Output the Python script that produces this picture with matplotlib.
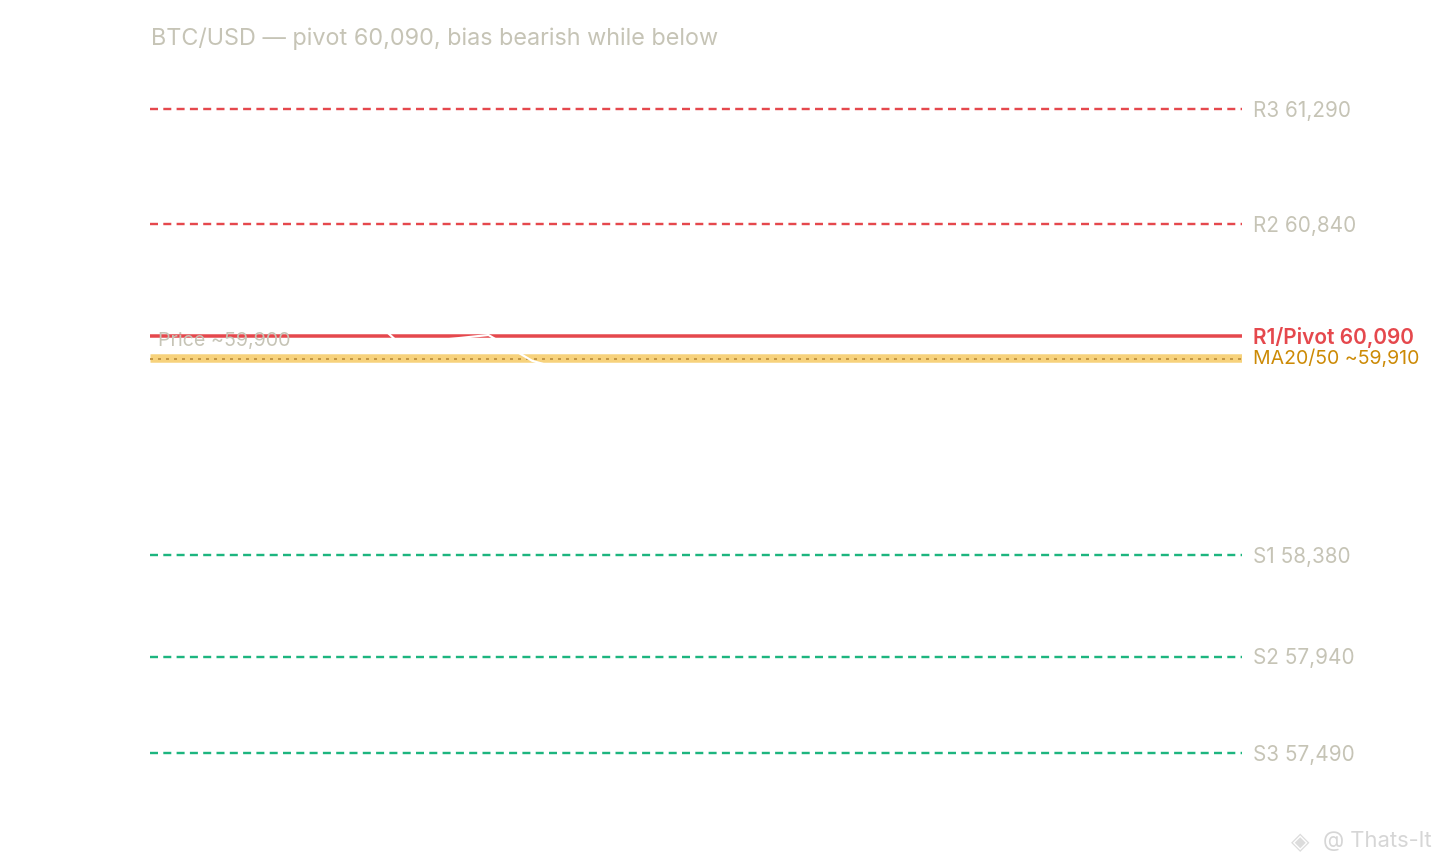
import matplotlib
matplotlib.use("Agg")
import matplotlib.pyplot as plt

plt.rcParams['font.family'] = ['Inter', 'DejaVu Sans']
plt.rcParams['lines.scale_dashes'] = False

# ---- data ----
level_names = ["R3", "R2", "R1/Pivot", "MA20/50", "S1", "S2", "S3"]
level_labels = ["R3 61,290", "R2 60,840", "R1/Pivot 60,090", "MA20/50 ~59,910",
                "S1 58,380", "S2 57,940", "S3 57,490"]
# plotted level positions (as drawn in the reference)
level_pos = [61215, 60547, 59899, 59771, 58621, 58031, 57473]

price_x = [0, 9.2, 16.5, 21.1, 22.7, 26.6, 31.0, 35.0, 41.2, 50.4]
price_y = [60105, 60047, 60001, 59954, 59861, 59873, 59902, 59752, 59640, 59524]

title = "BTC/USD \u2014 pivot 60,090, bias bearish while below"
price_label = "Price ~59,900"

# ---- styles ----
RED = "#e5484d"
GREEN = "#1db57f"
GOLD = "#cc8a06"
BAND = "#f7d27c"
GREY = "#c6c4b6"

W, H = 1440, 866
fig = plt.figure(figsize=(W / 100, H / 100), dpi=100)
fig.patch.set_facecolor("white")
ax = fig.add_axes([150 / W, 1 - 800 / H, 1092 / W, 740 / H])
ax.set_xlim(0, 100)
ax.set_ylim(57200, 61500)
ax.axis("off")

px = 0.72  # points per pixel
dash = (8 * px, 5.3 * px)

styles = {
    "R3": dict(color=RED, lw=2.4 * px, dashes=dash),
    "R2": dict(color=RED, lw=2.4 * px, dashes=dash),
    "R1/Pivot": dict(color=RED, lw=3.5 * px),
    "S1": dict(color=GREEN, lw=2.4 * px, dashes=dash),
    "S2": dict(color=GREEN, lw=2.4 * px, dashes=dash),
    "S3": dict(color=GREEN, lw=2.4 * px, dashes=dash),
}
label_colors = {"R1/Pivot": RED, "MA20/50": GOLD}
label_sizes = {"R1/Pivot": 20.9, "MA20/50": 19.5}
label_weights = {"R1/Pivot": 600}

for name, lab, y in zip(level_names, level_labels, level_pos):
    if name == "MA20/50":
        ax.plot([0, 100], [y, y], color=BAND, lw=8.5 * px, solid_capstyle="butt", zorder=2)
        ax.plot([0, 100], [y - 6, y - 6], color="#c49845", lw=2 * px,
                dashes=(3 * px, 5 * px), zorder=3)
    else:
        st = styles[name]
        kw = dict(color=st["color"], lw=st["lw"], zorder=3, solid_capstyle="butt",
                  dash_capstyle="butt")
        if "dashes" in st:
            kw["dashes"] = st["dashes"]
        ax.plot([0, 100], [y, y], **kw)
    ax.annotate(lab, xy=(1, y), xycoords=("axes fraction", "data"),
                xytext=(11 * px, -1.5 * px), textcoords="offset points",
                ha="left", va="center", fontsize=label_sizes.get(name, 20.7) * px,
                fontweight=label_weights.get(name, 400),
                color=label_colors.get(name, GREY), annotation_clip=False)

# price path (white)
ax.plot(price_x, price_y, color="white", lw=2.2 * px, zorder=4)
ax.text(0.7, 59865, price_label, ha="left", va="center", fontsize=19.7 * px,
        color=GREY, zorder=5)

fig.text(151 / W, 1 - 39 / H, title, ha="left", va="center",
         fontsize=23.4 * px, color=GREY)

fig.text(1432 / W, 1 - 841 / H, "@ Thats-It", ha="right", va="center",
         fontsize=22 * px, color="#d6d6d6")
fig.text(1300 / W, 1 - 842 / H, "\u25c8", ha="center", va="center",
         fontsize=24 * px, color="#dcdcdc", family=["DejaVu Sans"])

fig.savefig("out.png", dpi=100, facecolor="white")
